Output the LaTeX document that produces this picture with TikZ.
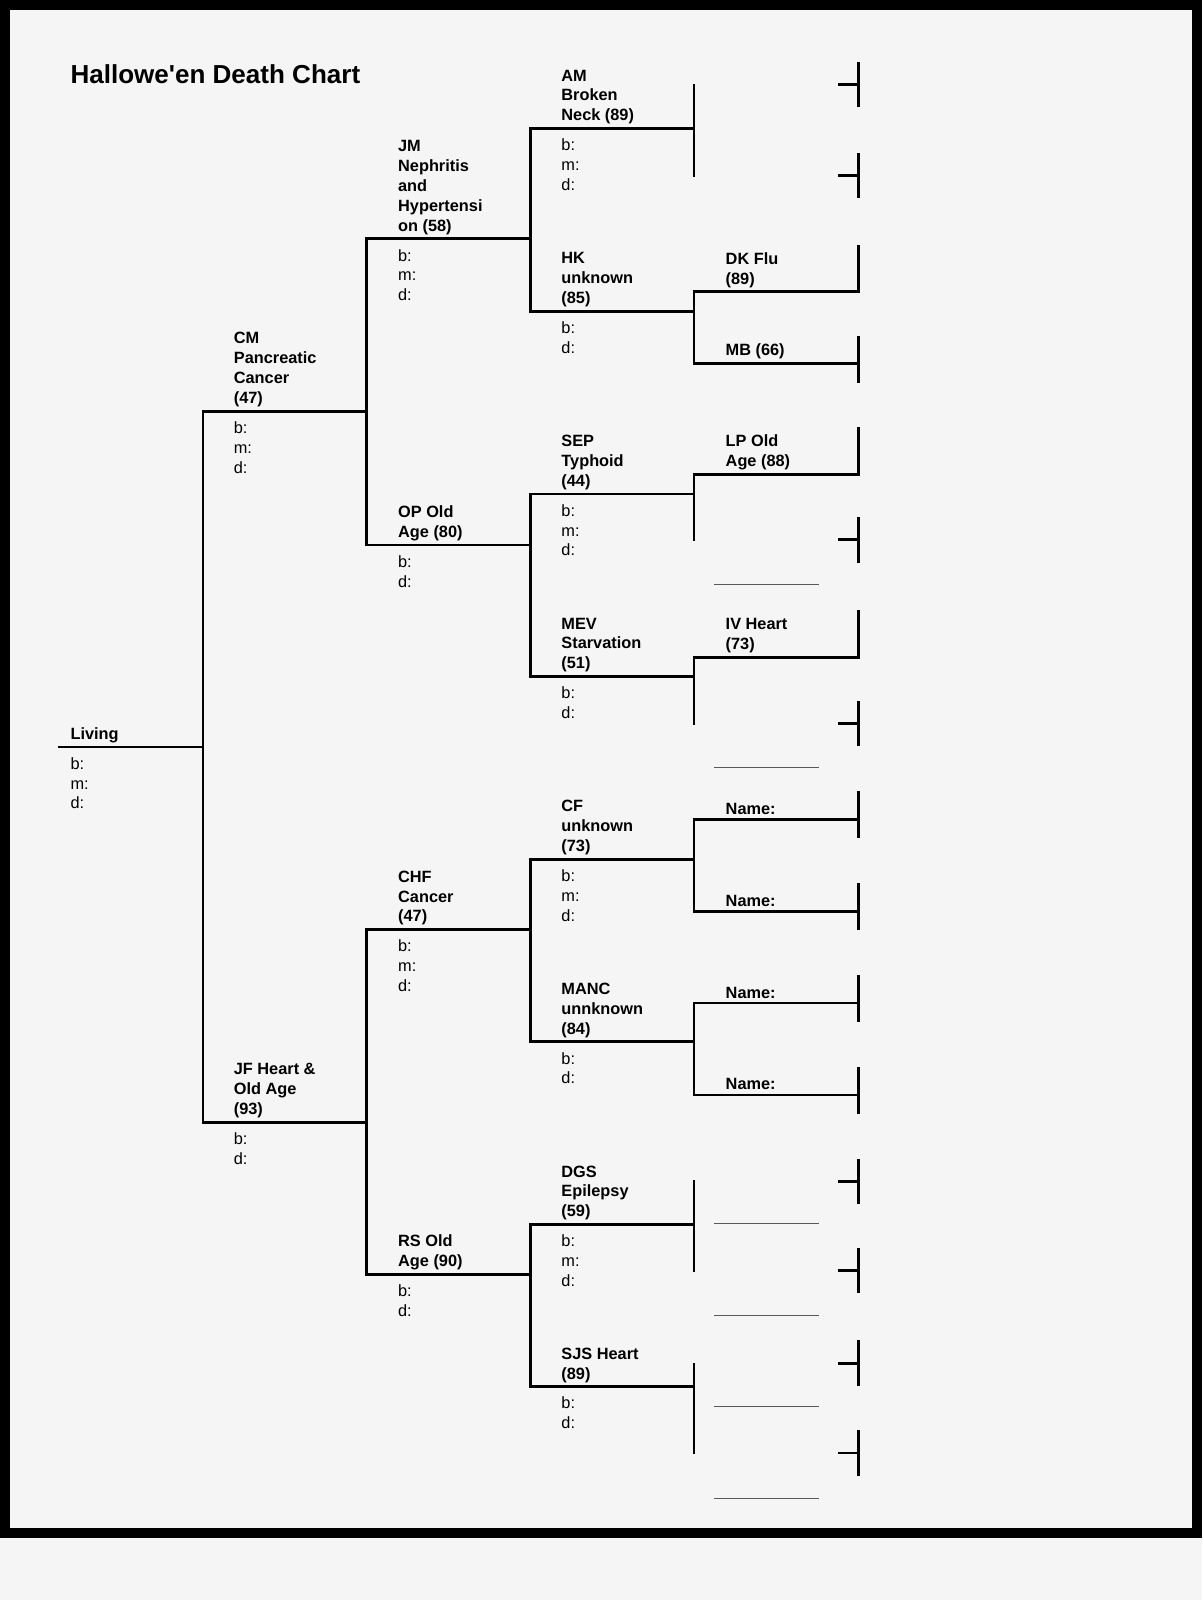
\documentclass[tikz,border=0pt]{standalone}
\usepackage{fontspec}
\setmainfont{Liberation Sans}
\begin{document}
\begin{tikzpicture}[x=1pt,y=-1pt,
  ln/.style={line width=2.7pt,line cap=rect},
  ul/.style={line width=0.8pt,gray!70!black},
  nm/.style={anchor=south west,inner sep=0pt,align=left,font=\fontsize{16}{19.5}\selectfont\bfseries},
  dt/.style={anchor=north west,inner sep=0pt,align=left,font=\fontsize{16}{19.5}\selectfont}]
\fill[black!4] (0,0) rectangle (1178,1568);
\useasboundingbox (0,0) rectangle (1178,1568);
\draw[line width=10pt] (5,5) rectangle (1173,1502);
\node[anchor=west,inner sep=0pt,font=\fontsize{25.5}{30}\selectfont\bfseries] (title) at (69,73) {Hallowe\textquotesingle en Death Chart};
% gen1
\draw[ln] (58,732) -- (199,732);
\node[nm] (liv) at (69,728) {Living};
\node[dt] (livd) at (69,742) {b:\\m:\\d:};
\draw[ln] (199,403) -- (199,1100);
% gen2
\draw[ln] (199,403) -- (359,403);
\draw[ln] (199,1100) -- (359,1100);
\node[nm] (cm) at (229,399) {CM\\Pancreatic\\Cancer\\(47)};
\node[dt] (cmd) at (229,413) {b:\\m:\\d:};
\node[nm] (jf) at (229,1096) {JF Heart \&\\Old Age\\(93)};
\node[dt] (jfd) at (229,1110) {b:\\d:};
\draw[ln] (359,234) -- (359,534);
\draw[ln] (359,911) -- (359,1249);
% gen3
\foreach \y in {234,534,911,1249} \draw[ln] (359,\y) -- (520,\y);
\node[nm] (jm) at (390,230) {JM\\Nephritis\\and\\Hypertensi\\on (58)};
\node[dt] (jmd) at (390,244) {b:\\m:\\d:};
\node[nm] (op) at (390,530) {OP Old\\Age (80)};
\node[dt] (opd) at (390,544) {b:\\d:};
\node[nm] (chf) at (390,907) {CHF\\Cancer\\(47)};
\node[dt] (chfd) at (390,921) {b:\\m:\\d:};
\node[nm] (rs) at (390,1245) {RS Old\\Age (90)};
\node[dt] (rsd) at (390,1259) {b:\\d:};
\draw[ln] (520,126) -- (520,305);
\draw[ln] (520,484) -- (520,663);
\draw[ln] (520,842) -- (520,1021);
\draw[ln] (520,1200) -- (520,1359);
% gen4
\foreach \y in {126,305,484,663,842,1021,1200,1359} \draw[ln] (520,\y) -- (680,\y);
\node[nm] (am) at (550,122) {AM\\Broken\\Neck (89)};
\node[dt] (amd) at (550,136) {b:\\m:\\d:};
\node[nm] (hk) at (550,301) {HK\\unknown\\(85)};
\node[dt] (hkd) at (550,315) {b:\\d:};
\node[nm] (sep) at (550,480) {SEP\\Typhoid\\(44)};
\node[dt] (sepd) at (550,494) {b:\\m:\\d:};
\node[nm] (mev) at (550,659) {MEV\\Starvation\\(51)};
\node[dt] (mevd) at (550,673) {b:\\d:};
\node[nm] (cf) at (550,838) {CF\\unknown\\(73)};
\node[dt] (cfd) at (550,852) {b:\\m:\\d:};
\node[nm] (manc) at (550,1017) {MANC\\unnknown\\(84)};
\node[dt] (mancd) at (550,1031) {b:\\d:};
\node[nm] (dgs) at (550,1196) {DGS\\Epilepsy\\(59)};
\node[dt] (dgsd) at (550,1210) {b:\\m:\\d:};
\node[nm] (sjs) at (550,1355) {SJS Heart\\(89)};
\node[dt] (sjsd) at (550,1369) {b:\\d:};
% gen4 verticals
\draw[ln] (680,84) -- (680,172);
\draw[ln] (680,286) -- (680,356);
\draw[ln] (680,465) -- (680,529);
\draw[ln] (680,644) -- (680,709);
\draw[ln] (680,803) -- (680,893);
\draw[ln] (680,983) -- (680,1073);
\draw[ln] (680,1158) -- (680,1245);
\draw[ln] (680,1337) -- (680,1424);
% empty ticks
\foreach \y in {83,172,529,709,1158,1245,1336,1424} {
  \draw[ln] (823,\y) -- (841,\y);
  \draw[ln] (841,\y-21) -- (841,\y+21);
}
% named gen5 lines
\draw[ln] (680,286) -- (841,286); \draw[ln] (841,241) -- (841,286);
\draw[ln] (680,356) -- (841,356); \draw[ln] (841,331) -- (841,374);
\draw[ln] (680,465) -- (841,465); \draw[ln] (841,420) -- (841,465);
\draw[ln] (680,644) -- (841,644); \draw[ln] (841,599) -- (841,644);
\foreach \y in {803,893,983,1073} {
  \draw[ln] (680,\y) -- (841,\y);
  \draw[ln] (841,\y-26) -- (841,\y+17);
}
\node[nm] (dk) at (711,282) {DK Flu\\(89)};
\node[nm] (mb) at (711,352) {MB (66)};
\node[nm] (lp) at (711,461) {LP Old\\Age (88)};
\node[nm] (iv) at (711,640) {IV Heart\\(73)};
\node[nm] (na1) at (711,799) {Name:};
\node[nm] (na2) at (711,889) {Name:};
\node[nm] (na3) at (711,979) {Name:};
\node[nm] (na4) at (711,1068) {Name:};
% underlines
\foreach \y in {573,752,1199,1289,1378,1468} \draw[ul] (700,\y) -- (803,\y);
\end{tikzpicture}
\end{document}
